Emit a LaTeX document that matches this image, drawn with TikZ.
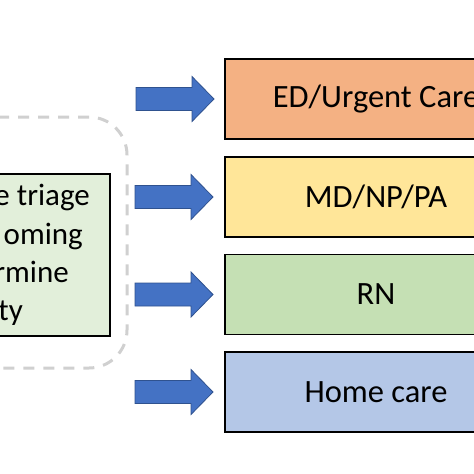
\documentclass[tikz,border=0pt]{standalone}
\usepackage{fontspec}
\setmainfont{Carlito}
\definecolor{orangefill}{HTML}{F4B183}
\definecolor{yellowfill}{HTML}{FFE699}
\definecolor{greenfill}{HTML}{C5E0B4}
\definecolor{bluefill}{HTML}{B4C7E7}
\definecolor{palegreen}{HTML}{E2EFDA}
\definecolor{arrowblue}{HTML}{4472C4}
\definecolor{arrowedge}{HTML}{2F528F}
\definecolor{dashgray}{HTML}{D0D0D0}
\begin{document}
\begin{tikzpicture}[x=1pt,y=-1pt,
  destbox/.style={draw=black,line width=1.8pt,minimum width=304pt,minimum height=80pt,inner sep=0pt,anchor=west},
  desttext/.style={font=\fontsize{32.5}{38}\selectfont,inner sep=0pt},
  frag/.style={font=\fontsize{31}{38}\selectfont,anchor=base east,inner sep=0pt},
  bigarrow/.pic={\draw[fill=arrowblue,draw=arrowedge,line width=0.8pt]
     (-78,-11.5) -- (-22,-11.5) -- (-22,-22.5) -- (0,0) -- (-22,22.5) -- (-22,11.5) -- (-78,11.5) -- cycle;}
  ]
\useasboundingbox (0,0) rectangle (474,474);
\clip (0,0) rectangle (474,474);
% dashed grouping frame
\draw[dashgray,line width=3pt,dash pattern=on 11pt off 9pt,rounded corners=38pt]
  (-120,117) rectangle (127,368);
% left box
\node[draw=black,line width=1.8pt,fill=palegreen,minimum width=250pt,minimum height=162pt,anchor=north east,inner sep=0pt]
  (triage) at (111,173) {};
\node[frag] (l1) at (90,205) {e triage};
\node[frag] (l2) at (83,244) {oming};
\node[frag] (l3) at (69,282) {rmine};
\node[frag] (l4) at (23,320) {ty};
% destination boxes
\node[destbox,fill=orangefill] (ed) at (224,99) {};
\node[destbox,fill=yellowfill] (md) at (224,197) {};
\node[destbox,fill=greenfill] (rn) at (224,294.5) {};
\node[destbox,fill=bluefill] (home) at (224,392) {};
\node[desttext] (edt) at (376,99) {ED/Urgent Care};
\node[desttext] (mdt) at (376,197) {MD/NP/PA};
\node[desttext] (rnt) at (376,294.5) {RN};
\node[desttext] (homet) at (376,392) {Home care};
% arrows
\pic at (214,99) {bigarrow};
\pic at (213,197) {bigarrow};
\pic at (213,294.5) {bigarrow};
\pic at (213,392) {bigarrow};
\end{tikzpicture}
\end{document}
